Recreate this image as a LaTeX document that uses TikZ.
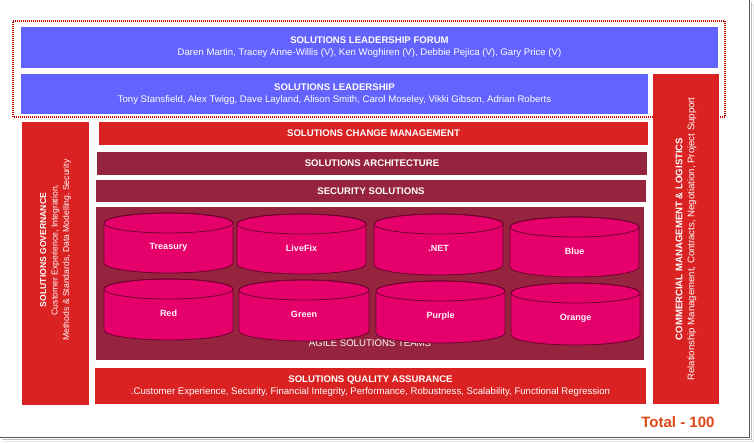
\documentclass[tikz,border=0pt]{standalone}
\usepackage{fontspec}
\setmainfont{Liberation Sans}
\usetikzlibrary{positioning}
\definecolor{forumblue}{RGB}{99,99,255}
\definecolor{solred}{RGB}{218,34,34}
\definecolor{solmaroon}{RGB}{150,36,62}
\definecolor{teampink}{RGB}{230,0,108}
\definecolor{teamedge}{RGB}{110,0,45}
\definecolor{totalred}{RGB}{222,70,24}
\newcommand{\team}[6]{%
  \filldraw[team] (#2-#3,#4) -- (#2-#3,#5) arc[start angle=180, end angle=360, x radius=#3, y radius=10]
    -- (#2+#3,#4) arc[start angle=0, end angle=180, x radius=#3, y radius=10] -- cycle;
  \draw[team, fill=none] (#2,#4) ellipse[x radius=#3, y radius=10];
  \node[teamlabel] (#1) at (#2,{(#4+#5)/2-4}) {#6};}

\begin{document}
\begin{tikzpicture}[x = 1pt, y = 1pt,
  bar/.style = {inner sep = 0pt, align = center, text = white, font = \fontsize{9.6}{12}\selectfont},
  bartext/.style = {inner sep = 0pt, align = center, text = white, font = \fontsize{9.6}{12}\selectfont},
  team/.style = {fill = teampink, draw = teamedge, line width = .8pt},
  teamlabel/.style = {text = white!88!pink, font = \bfseries\fontsize{9}{11}\selectfont},
  leaderframe/.style = {draw = red!75!black, line width = 1.2pt, dash pattern = on 1pt off 1pt}]
\useasboundingbox (0,0) rectangle (754,442);
\draw[black!10, line width = 1pt] (753,438) -- (753,1) -- (4,1);
\draw[black!25, line width = 1pt] (751.5,440) -- (751.5,2.5) -- (2,2.5);
\draw[black!65, line width = 1.2pt] (749.5,442) -- (749.5,4.5) -- (0,4.5);
\draw[leaderframe] (13,325) rectangle (725,421);
\node[bar, fill = forumblue, minimum width = 697, minimum height = 41] (forum) at (369.5,394.5) {\textbf{SOLUTIONS LEADERSHIP FORUM}\\Daren Martin, Tracey Anne-Willis (V), Ken Woghiren (V), Debbie Pejica (V), Gary Price (V)};
\node[bar, fill = forumblue, minimum width = 627, minimum height = 40] (leadership) at (334.5,348) {\textbf{SOLUTIONS LEADERSHIP}\\Tony Stansfield, Alex Twigg, Dave Layland, Alison Smith, Carol Moseley, Vikki Gibson, Adrian Roberts};
\node[bar, fill = solred, rotate = 90, minimum width = 330, minimum height = 66] (commercial) at (686,203) {\textbf{COMMERCIAL MANAGEMENT \& LOGISTICS}\\Relationship Management, Contracts, Negotiation, Project Support};
\node[bar, fill = solred, minimum width = 67, minimum height = 283] (governance) at (55.5,178.5) {};
\node[bartext, rotate = 90, font = \fontsize{8.6}{11.5}\selectfont] (governance text) at (55.5,192) {\textbf{SOLUTIONS GOVERNANCE}\\Customer Experience, Integration,\\Methods \& Standards, Data Modelling, Security};
\node[bar, fill = solred, minimum width = 549, minimum height = 23] (change) at (373.5,308.5) {\textbf{SOLUTIONS CHANGE MANAGEMENT}};
\node[bar, fill = solmaroon, minimum width = 550, minimum height = 23] (architecture) at (372,278.5) {\textbf{SOLUTIONS ARCHITECTURE}};
\node[bar, fill = solmaroon, minimum width = 550, minimum height = 22] (security) at (371,251) {\textbf{SECURITY SOLUTIONS}};
\node[bar, fill = solmaroon, minimum width = 548, minimum height = 153] (agile) at (370,158.5) {};
\node[bartext] (agile text) at (370,99) {AGILE SOLUTIONS TEAMS};
\node[bar, fill = solred, minimum width = 551, minimum height = 36] (quality) at (370.5,56) {\textbf{SOLUTIONS QUALITY ASSURANCE}\\.Customer Experience, Security, Financial Integrity, Performance, Robustness, Scalability, Functional Regression};
\team{treasury}{168.5}{64.5}{219}{179}{Treasury}
\team{livefix}{301.5}{64.5}{218}{178}{LiveFix}
\team{dotnet}{438.5}{64.5}{218}{177}{.NET}
\team{blue}{574.5}{64.5}{215}{175}{Blue}
\team{red}{168.5}{64.5}{153}{112}{Red}
\team{green}{304}{65}{152}{111}{Green}
\team{purple}{440.5}{64.5}{151}{109}{Purple}
\team{orange}{575.5}{64.5}{149}{107}{Orange}
\node[anchor = east, text = totalred, font = \bfseries\fontsize{15}{15}\selectfont] (total) at (718,20) {Total - 100};
\end{tikzpicture}
\end{document}
